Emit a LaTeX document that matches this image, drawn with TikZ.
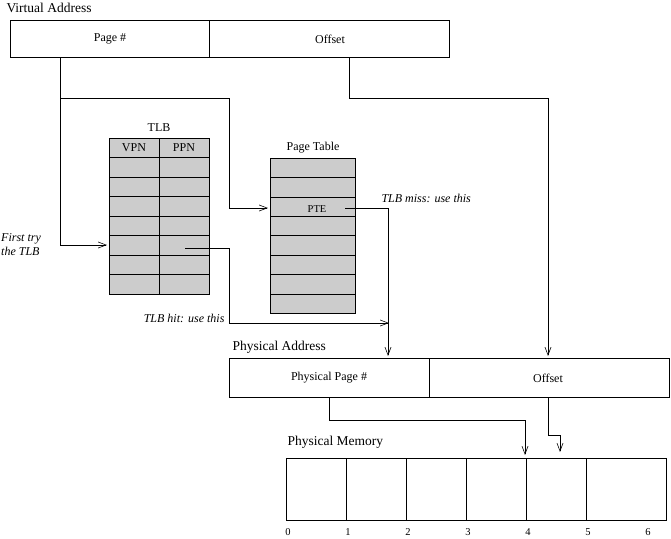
\documentclass[tikz,border=0pt]{standalone}
\usepackage{fontspec}
\setmainfont{Liberation Serif}
\usetikzlibrary{arrows.meta}
\begin{document}
\begin{tikzpicture}[x=1pt,y=-1pt,
  ln/.style={line width=0.6pt},
  ar/.style={ln,-{Straight Barb[length=8pt,width=6pt]}},
  big/.style={font=\fontsize{13.5}{15}\selectfont},
  med/.style={font=\fontsize{12}{14}\selectfont},
  sm/.style={font=\fontsize{10.5}{12}\selectfont},
  it/.style={font=\fontsize{12}{14}\selectfont\itshape,align=left},
  cell/.style={draw,fill=black!20,ln}]
\useasboundingbox (0,0) rectangle (671,538);
% Virtual address
\node[big,anchor=west] (va) at (3,8) {Virtual Address};
\draw[ln] (10,20) rectangle (449,57); \draw[ln] (209,20)--(209,57);
\node[med] (pg) at (110,39) {Page \#};
\node[med] (off) at (330,39) {Offset};
% TLB
\node[med] (tlbl) at (159,128) {TLB};
\foreach \i in {0,...,7}{
  \draw[cell] (109,{138+\i*19.5}) rectangle (159,{157.5+\i*19.5});
  \draw[cell] (159,{138+\i*19.5}) rectangle (209,{157.5+\i*19.5});}
\node[med] (vpn) at (134,148) {VPN};
\node[med] (ppn) at (184,148) {PPN};
% Page table
\node[med] (ptl) at (313,148) {Page Table};
\foreach \i in {0,...,7}{
  \draw[cell] (270,{158+\i*19.4}) rectangle (355,{177.4+\i*19.4});}
\node[sm] (pte) at (317,209) {PTE};
% Physical address
\node[big,anchor=west] (pa) at (229,347) {Physical Address};
\draw[ln] (229,358) rectangle (669,397); \draw[ln] (429,358)--(429,397);
\node[med] (ppg) at (329,378) {Physical Page \#};
\node[med] (poff) at (548,378) {Offset};
% Physical memory
\node[big,anchor=west] (pm) at (284,442) {Physical Memory};
\draw[ln] (286,458) rectangle (666,520);
\foreach \k in {1,...,5}{\draw[ln] ({286+\k*60},458)--({286+\k*60},520);}
\foreach \k in {0,...,6}{\node[sm] (n\k) at ({288+\k*60},532) {\k};}
% labels
\node[it,anchor=west,inner sep=1pt] (first) at (0,245) {First try\\the TLB};
\node[it,anchor=west] (miss) at (378,198) {TLB miss: use this};
\node[it,anchor=east] (hit) at (228,318) {TLB hit: use this};
% coordinates
\coordinate (a1) at (60,57);
\coordinate (tlbin) at (107,245);
\coordinate (ptin) at (268,208);
\coordinate (o1) at (349,57);
\coordinate (paoff) at (548,356);
\coordinate (ppnsrc) at (185,248);
\coordinate (ptesrc) at (345,208);
\coordinate (pain) at (388,356);
\coordinate (hitin) at (389,323);
% connectors
\draw[ar] (a1) |- (tlbin);
\draw[ar] (60,98) -| (229,208) -- (ptin);
\draw[ar] (o1) |- (548,98) -- (paoff);
\draw[ar] (ppnsrc) -| (229,323) -- (hitin);
\draw[ar] (ptesrc) -| (pain);
\draw[ar] (329,397) |- (525,420) -- (525,455);
\draw[ar] (548,397) |- (560,435) -- (560,452);
\end{tikzpicture}
\end{document}
